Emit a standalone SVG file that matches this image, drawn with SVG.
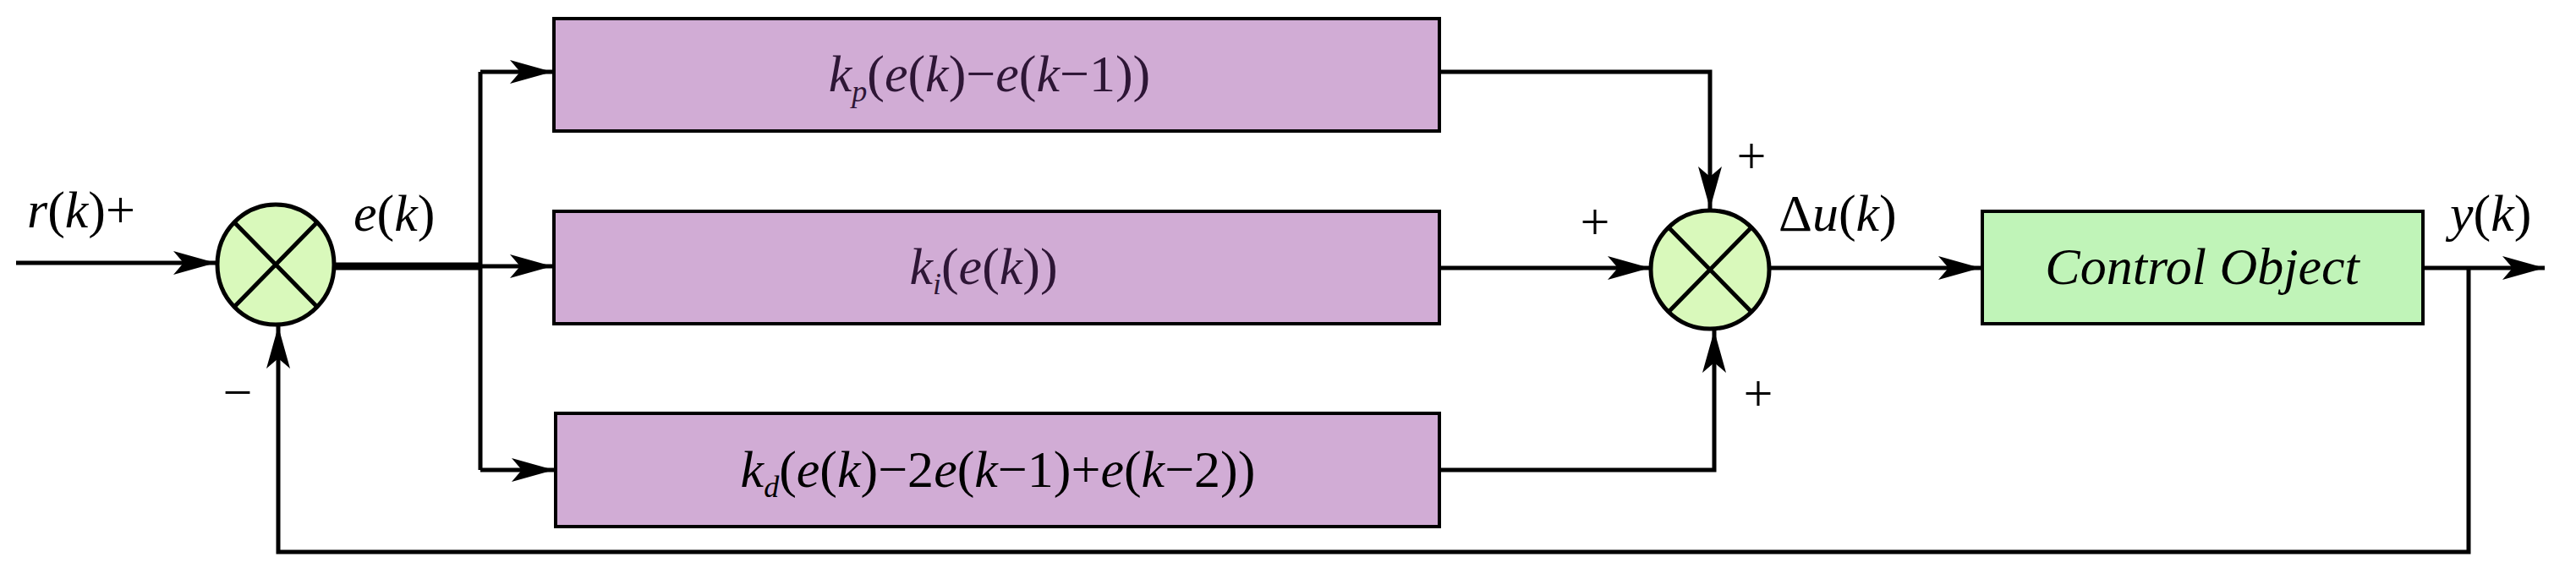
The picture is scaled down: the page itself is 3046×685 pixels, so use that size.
<svg xmlns="http://www.w3.org/2000/svg" width="3046" height="685" viewBox="0 0 3046 685">
<style>
.ln{fill:none;stroke:#000;stroke-width:5}
.box{stroke:#000;stroke-width:4}
.sum{fill:#d9f9bb;stroke:#000;stroke-width:5}
.t{font-family:"Liberation Serif",serif;font-style:italic;font-size:62px;fill:#000}
.u{font-style:normal}
.f{font-family:"Liberation Serif",serif;font-style:italic;font-size:62px;fill:#2e1636}
</style>
<defs>
<marker id="a" markerUnits="userSpaceOnUse" markerWidth="60" markerHeight="40" refX="50" refY="20" orient="auto">
<path d="M0,6 L50,20 L0,34 L12,20 Z" fill="#000"/>
</marker>
</defs>
<rect width="3046" height="685" fill="#fff"/>
<g id="connectors">
<path class="ln" d="M19,311 L255,311" marker-end="url(#a)"/>
<path d="M395,315 L568,315" stroke="#000" stroke-width="9" fill="none"/>
<path class="ln" d="M568,85 L568,556"/>
<path class="ln" d="M568,85 L653,85" marker-end="url(#a)"/>
<path class="ln" d="M568,315 L653,315" marker-end="url(#a)"/>
<path class="ln" d="M568,556 L655,556" marker-end="url(#a)"/>
<path class="ln" d="M1702,85 L2022,85 L2022,247" marker-end="url(#a)"/>
<path class="ln" d="M1702,317 L1951,317" marker-end="url(#a)"/>
<path class="ln" d="M1702,556 L2027,556 L2027,391" marker-end="url(#a)"/>
<path class="ln" d="M2092,317 L2342,317" marker-end="url(#a)"/>
<path class="ln" d="M2865,317 L3009,317" marker-end="url(#a)"/>
<path class="ln" d="M2919,317 L2919,653 L329,653 L329,386" marker-end="url(#a)"/>
</g>
<g id="sum1">
<ellipse class="sum" cx="326" cy="313" rx="69" ry="71"/>
<path class="ln" d="M277,263 L375,363 M375,263 L277,363"/>
</g>
<g id="sum2">
<ellipse class="sum" cx="2022" cy="319" rx="70" ry="70"/>
<path class="ln" d="M1973,269 L2071,369 M2071,269 L1973,369"/>
</g>
<g id="kp">
<rect class="box" x="655" y="22" width="1047" height="133" fill="#d1acd5"/>
<text class="f" x="1170" y="108" text-anchor="middle">k<tspan font-size="36" dy="12">p</tspan><tspan class="u" dy="-12">(</tspan>e<tspan class="u">(</tspan>k<tspan class="u">)−</tspan>e<tspan class="u">(</tspan>k<tspan class="u">−1))</tspan></text>
</g>
<g id="ki">
<rect class="box" x="655" y="250" width="1047" height="133" fill="#d1acd5"/>
<text class="f" x="1163" y="336" text-anchor="middle">k<tspan font-size="36" dy="12">i</tspan><tspan class="u" dy="-12">(</tspan>e<tspan class="u">(</tspan>k<tspan class="u">))</tspan></text>
</g>
<g id="kd">
<rect class="box" x="657" y="489" width="1045" height="134" fill="#d1acd5"/>
<text class="t" x="1180" y="576" text-anchor="middle">k<tspan font-size="36" dy="12">d</tspan><tspan class="u" dy="-12">(</tspan>e<tspan class="u">(</tspan>k<tspan class="u">)−2</tspan>e<tspan class="u">(</tspan>k<tspan class="u">−1)+</tspan>e<tspan class="u">(</tspan>k<tspan class="u">−2))</tspan></text>
</g>
<g id="plant">
<rect class="box" x="2344" y="250" width="521" height="133" fill="#c0f4b8"/>
<text class="t" x="2604" y="336" text-anchor="middle">Control Object</text>
</g>
<g id="labels">
<text class="t" x="32" y="269">r<tspan class="u">(</tspan>k<tspan class="u">)+</tspan></text>
<text class="t" x="418" y="273">e<tspan class="u">(</tspan>k<tspan class="u">)</tspan></text>
<text class="t" x="2103" y="273"><tspan class="u">Δ</tspan>u<tspan class="u">(</tspan>k<tspan class="u">)</tspan></text>
<text class="t" x="2897" y="273">y<tspan class="u">(</tspan>k<tspan class="u">)</tspan></text>
<text class="t u" x="281" y="485" text-anchor="middle">−</text>
<text class="t u" x="2071" y="205" text-anchor="middle">+</text>
<text class="t u" x="1886" y="283" text-anchor="middle">+</text>
<text class="t u" x="2079" y="486" text-anchor="middle">+</text>
</g>
</svg>
